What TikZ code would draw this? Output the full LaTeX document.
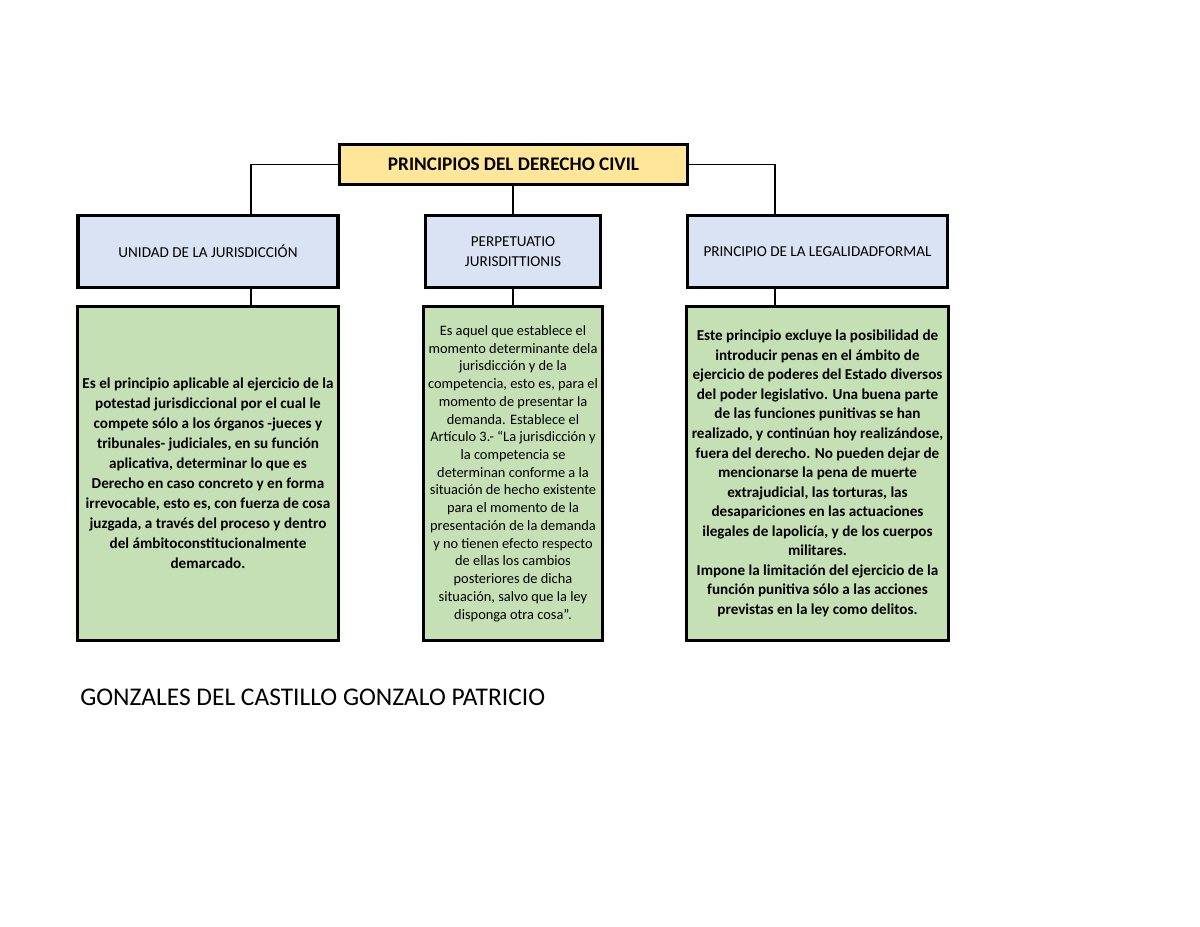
\documentclass[tikz,border=0pt]{standalone}
\usepackage{fontspec}
\setmainfont{Carlito}
\usepackage{xcolor}
\usetikzlibrary{positioning}
\definecolor{titelgelb}{HTML}{FFE699}
\definecolor{kopfblau}{HTML}{DAE3F3}
\definecolor{textgruen}{HTML}{C5E0B4}

\begin{document}
\begin{tikzpicture}[x=0.66pt, y=-0.66pt,
	titelbox/.style={draw, line width=2pt, fill=titelgelb, minimum width=230pt, minimum height=27pt, font=\fontsize{12.7}{15}\selectfont\bfseries},
	kopfbox/.style={draw, line width=2pt, fill=kopfblau, minimum height=47pt, align=center, font=\fontsize{10}{13}\selectfont},
	textbox/.style={draw, line width=2pt, fill=textgruen, minimum height=220pt, align=center},
	verbindung/.style={line width=0.8pt}]
	   	\useasboundingbox (0,0) rectangle (1200,927);
	   	%
	   	%TITEL
	   	\node (titel) at (513.5,164.5) [titelbox] {PRINCIPIOS DEL DERECHO CIVIL};
	   	%
	   	%Knickpunkte der Verbindungen
	   	\coordinate (lk) at (251,0);
	   	\coordinate (mk) at (513,0);
	   	\coordinate (rk) at (775,0);
	   	%
	   	%%%%%%%%%%%%%%%%%%%%%%%%%%%%%%%%%%%%%%
	   	%LINKE SEITE
	   	%Kopf
	   	\node (lkopf) at (208,251.5) [kopfbox, minimum width=171.6pt] {UNIDAD DE LA JURISDICCIÓN};
	   	%
	   	%Text
	   	\node (ltext) at (208,473.5) [textbox, minimum width=170pt, font=\fontsize{10}{13.2}\selectfont\bfseries]
	   	{Es el principio aplicable al ejercicio de la\\
	   	potestad jurisdiccional por el cual le\\
	   	compete sólo a los órganos -jueces y\\
	   	tribunales- judiciales, en su función\\
	   	aplicativa, determinar lo que es\\
	   	Derecho en caso concreto y en forma\\
	   	irrevocable, esto es, con fuerza de cosa\\
	   	juzgada, a través del proceso y dentro\\
	   	del ámbitoconstitucionalmente\\
	   	demarcado.};
	   	%
	   	%Linie Titel-Kopf
	   	\draw[verbindung] (titel.west) -| (lk |- lkopf.north);
	   	%
	   	%Linie Kopf-Text
	   	\draw[verbindung] (lk |- lkopf.south) -- (lk |- ltext.north);
	   	%
	   	%%%%%%%%%%%%%%%%%%%%%%%%%%%%%%%%%%%%%%
	   	%MITTE
	   	%Kopf
	   	\node (mkopf) at (513,251.5) [kopfbox, minimum width=115pt] {PERPETUATIO\\JURISDITTIONIS};
	   	%
	   	%Text
	   	\node (mtext) at (513,473.5) [textbox, minimum width=115pt, font=\fontsize{9.5}{11.7}\selectfont]
	   	{Es aquel que establece el\\
	   	momento determinante dela\\
	   	jurisdicción y de la\\
	   	competencia, esto es, para el\\
	   	momento de presentar la\\
	   	demanda. Establece el\\
	   	Artículo 3.- “La jurisdicción y\\
	   	la competencia se\\
	   	determinan conforme a la\\
	   	situación de hecho existente\\
	   	para el momento de la\\
	   	presentación de la demanda\\
	   	y no tienen efecto respecto\\
	   	de ellas los cambios\\
	   	posteriores de dicha\\
	   	situación, salvo que la ley\\
	   	disponga otra cosa”.};
	   	%
	   	%Linie Titel-Kopf
	   	\draw[verbindung] (mk |- titel.south) -- (mk |- mkopf.north);
	   	%
	   	%Linie Kopf-Text
	   	\draw[verbindung] (mk |- mkopf.south) -- (mk |- mtext.north);
	   	%
	   	%%%%%%%%%%%%%%%%%%%%%%%%%%%%%%%%%%%%%%
	   	%RECHTE SEITE
	   	%Kopf
	   	\node (rkopf) at (817.5,251.5) [kopfbox, minimum width=172pt] {PRINCIPIO DE LA LEGALIDADFORMAL};
	   	%
	   	%Text
	   	\node (rtext) at (817.5,473.5) [textbox, minimum width=172pt, font=\fontsize{10}{12.9}\selectfont\bfseries]
	   	{Este principio excluye la posibilidad de\\
	   	introducir penas en el ámbito de\\
	   	ejercicio de poderes del Estado diversos\\
	   	del poder legislativo. Una buena parte\\
	   	de las funciones punitivas se han\\
	   	realizado, y continúan hoy realizándose,\\
	   	fuera del derecho. No pueden dejar de\\
	   	mencionarse la pena de muerte\\
	   	extrajudicial, las torturas, las\\
	   	desapariciones en las actuaciones\\
	   	ilegales de lapolicía, y de los cuerpos\\
	   	militares.\\
	   	Impone la limitación del ejercicio de la\\
	   	función punitiva sólo a las acciones\\
	   	previstas en la ley como delitos.};
	   	%
	   	%Linie Titel-Kopf
	   	\draw[verbindung] (titel.east) -| (rk |- rkopf.north);
	   	%
	   	%Linie Kopf-Text
	   	\draw[verbindung] (rk |- rkopf.south) -- (rk |- rtext.north);
	   	%
	   	%%%%%%%%%%%%%%%%%%%%%%%%%%%%%%%%%%%%%%
	   	%NAME
	   	\node (name) at (80,697) [anchor=west, inner sep=0pt, font=\fontsize{16.8}{20}\selectfont] {GONZALES DEL CASTILLO GONZALO PATRICIO};
\end{tikzpicture}
\end{document}
